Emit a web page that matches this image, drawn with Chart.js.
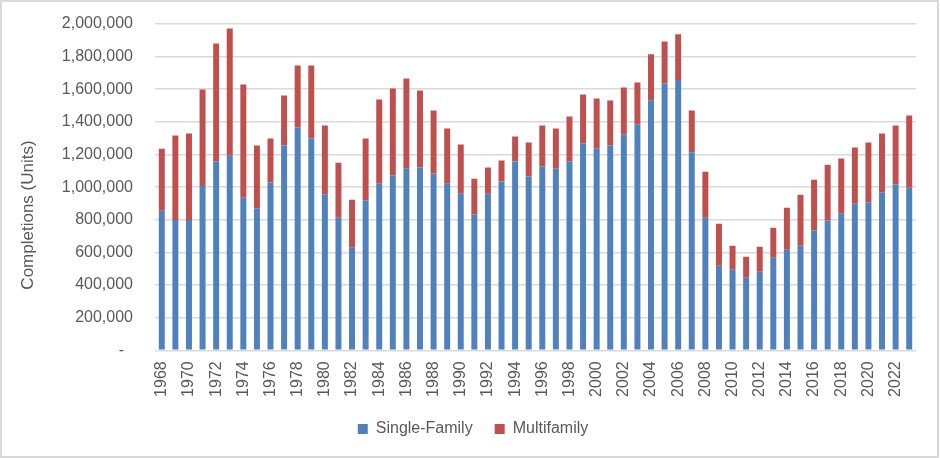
<!DOCTYPE html>
<html>
<head>
<meta charset="utf-8">
<script src="https://cdn.jsdelivr.net/npm/chart.js@4/dist/chart.umd.min.js"></script>
<style>
  html, body { margin: 0; padding: 0; background: #fff; }
  #wrap {
    position: relative; width: 939px; height: 458px;
    box-sizing: border-box; border: 2px solid #d9d9d9; background: #fff;
  }
  #chart { display: block; }
</style>
</head>
<body>
<div id="wrap"><canvas id="chart" width="935" height="454"></canvas></div>
<script>
// Years on the x axis
const years = [
  '1968','1969','1970','1971','1972','1973','1974','1975','1976','1977',
  '1978','1979','1980','1981','1982','1983','1984','1985','1986','1987',
  '1988','1989','1990','1991','1992','1993','1994','1995','1996','1997',
  '1998','1999','2000','2001','2002','2003','2004','2005','2006','2007',
  '2008','2009','2010','2011','2012','2013','2014','2015','2016','2017',
  '2018','2019','2020','2021','2022','2023'
];

// Completions, units
const singleFamily = [
  856000, 798000, 798000, 1007000, 1157000, 1193000, 935000, 870000, 1028000, 1255000,
  1365000, 1298000, 956000, 813000, 628000, 919000, 1021000, 1071000, 1116000, 1120000,
  1083000, 1021000, 960000, 833000, 960000, 1034000, 1157000, 1066000, 1128000, 1116000,
  1157000, 1267000, 1238000, 1255000, 1324000, 1386000, 1533000, 1636000, 1656000, 1214000,
  813000, 518000, 493000, 444000, 481000, 567000, 616000, 641000, 735000, 796000,
  837000, 899000, 907000, 968000, 1017000, 997000
];
const multifamily = [
  380000, 518000, 531000, 592000, 724000, 780000, 694000, 385000, 270000, 307000,
  381000, 448000, 422000, 337000, 295000, 379000, 516000, 534000, 550000, 473000,
  387000, 338000, 301000, 219000, 160000, 129000, 153000, 207000, 250000, 243000,
  276000, 301000, 305000, 276000, 287000, 256000, 281000, 257000, 281000, 256000,
  282000, 258000, 148000, 129000, 154000, 184000, 258000, 313000, 311000, 342000,
  338000, 344000, 366000, 361000, 361000, 442000
];

const yMax = 2000000;
const yStep = 200000;

const textColor = '#595959';
const gridColor = '#d9d9d9';
const fontFamily = '"Liberation Sans", Arial, sans-serif';

// y axis title drawn by hand so it sits where the original has it
const yTitlePlugin = {
  id: 'yTitle',
  afterDraw(chart) {
    const ctx = chart.ctx;
    ctx.save();
    ctx.translate(26.5, 213);
    ctx.rotate(-Math.PI / 2);
    ctx.font = '17px ' + fontFamily;
    ctx.fillStyle = textColor;
    ctx.textAlign = 'center';
    ctx.textBaseline = 'middle';
    ctx.fillText('Completions (Units)', 0, 0);
    ctx.restore();
  }
};

new Chart(document.getElementById('chart'), {
  type: 'bar',
  data: {
    labels: years,
    datasets: [
      {
        label: 'Single-Family',
        data: singleFamily,
        backgroundColor: '#4f81bd',
        barPercentage: 0.44,
        categoryPercentage: 1.0
      },
      {
        label: 'Multifamily',
        data: multifamily,
        backgroundColor: '#c0504d',
        barPercentage: 0.44,
        categoryPercentage: 1.0
      }
    ]
  },
  options: {
    responsive: false,
    animation: false,
    devicePixelRatio: 1,
    layout: { padding: { left: 28, right: 21, top: 22, bottom: 9 } },
    plugins: {
      legend: {
        position: 'bottom',
        labels: {
          boxWidth: 10,
          boxHeight: 10,
          padding: 22,
          color: textColor,
          font: { family: fontFamily, size: 16 }
        }
      },
      tooltip: { enabled: false }
    },
    scales: {
      x: {
        stacked: true,
        grid: { display: false },
        border: { display: false },
        ticks: {
          autoSkip: false,
          minRotation: 90,
          maxRotation: 90,
          padding: 3,
          color: textColor,
          font: { family: fontFamily, size: 16 },
          callback: function (value, index) {
            return index % 2 === 0 ? years[index] : '';
          }
        },
        afterFit: function (scale) { scale.height = 48.7; }
      },
      y: {
        stacked: true,
        min: 0,
        max: yMax,
        grid: {
          color: gridColor,
          lineWidth: 1.6,
          drawTicks: true,
          tickLength: 18,
          tickColor: 'rgba(0,0,0,0)'
        },
        border: { display: false },
        ticks: {
          stepSize: yStep,
          padding: 4,
          color: textColor,
          font: { family: fontFamily, size: 16 },
          callback: function (value) {
            return value === 0 ? '-  ' : value.toLocaleString('en-US');
          }
        },
        afterFit: function (scale) { scale.width = 125; }
      }
    }
  },
  plugins: [yTitlePlugin]
});
</script>
</body>
</html>
